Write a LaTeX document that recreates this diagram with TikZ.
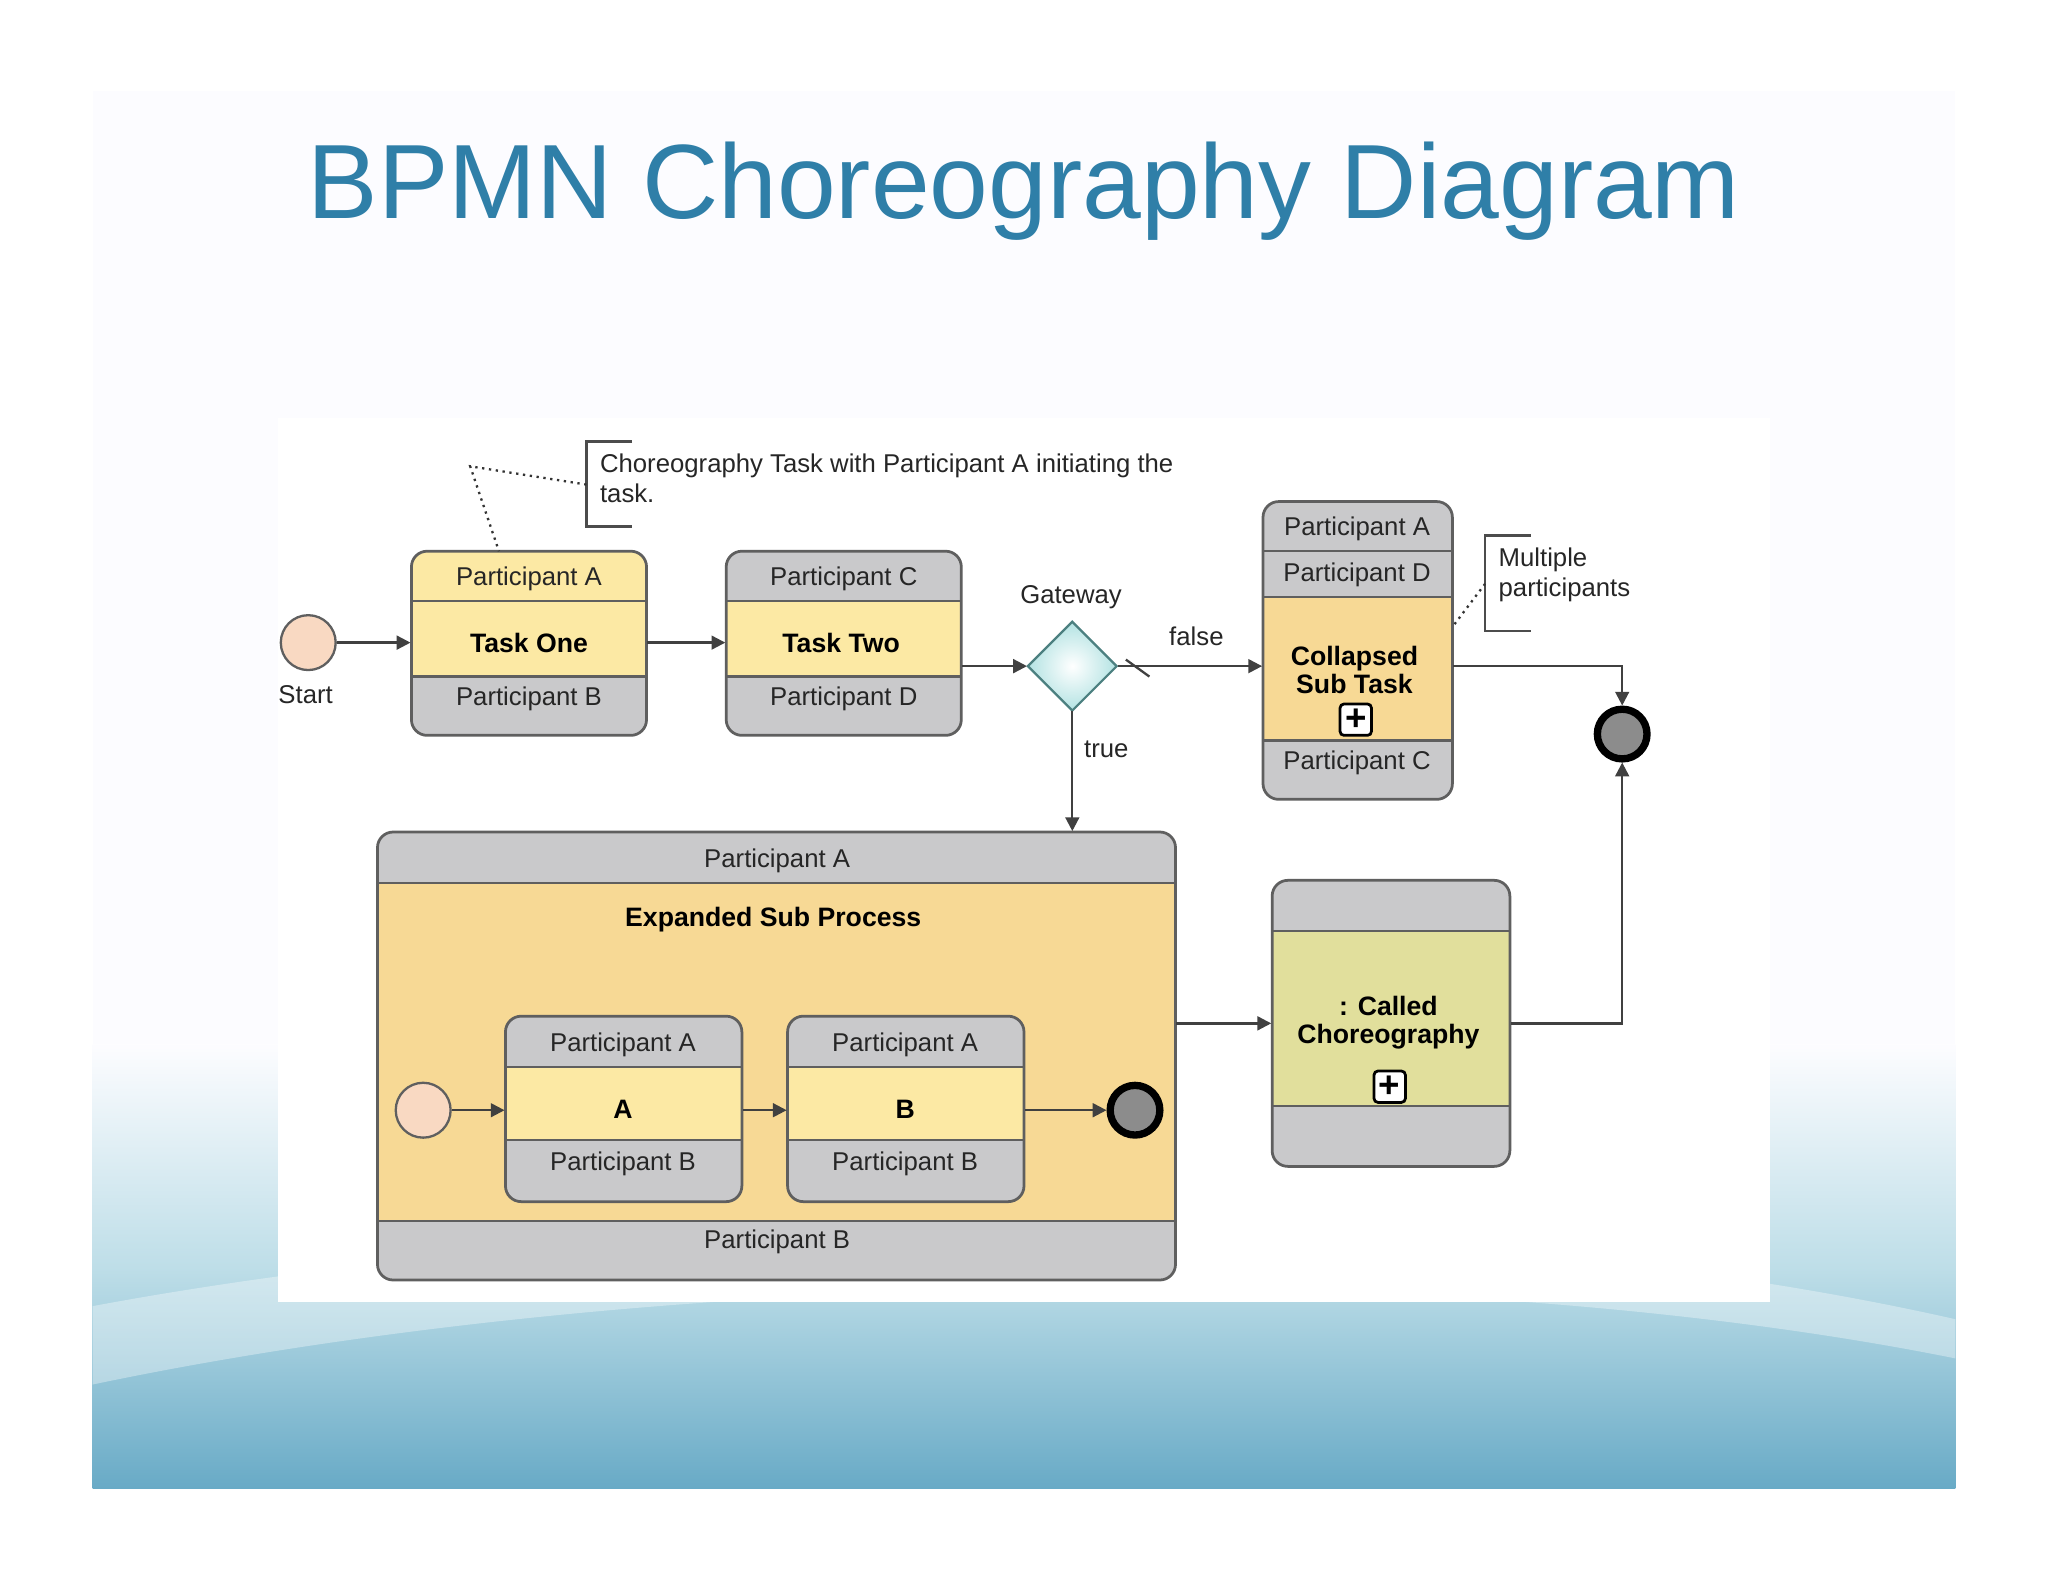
\documentclass[tikz,border=0pt]{standalone}
\usepackage{fontspec}
\setmainfont{Liberation Sans}
\usetikzlibrary{fit,arrows.meta}
\definecolor{gry}{HTML}{C9C9CB}
\definecolor{ylw}{HTML}{FCE9A4}
\definecolor{org}{HTML}{F7D995}
\definecolor{grn}{HTML}{E1DF9C}
\definecolor{peach}{HTML}{F9D9C2}
\definecolor{ttl}{HTML}{2F7FA8}
\definecolor{edge}{HTML}{5F5F5F}
% fill one band of a rounded box (clipped)
\newcommand{\bandfill}[5]{\fill[#5] (#1,#3) rectangle (#2,#4);}
\tikzset{
  lbl/.style={font=\fontsize{5.6}{6.6}\selectfont, text=black!85},
  bld/.style={font=\fontsize{5.8}{7}\selectfont\bfseries, align=center},
  box/.style={draw=edge, line width=0.6pt, rounded corners=0.12cm},
  sep/.style={draw=edge, line width=0.5pt},
  flow/.style={draw=black!75, line width=0.5pt, -{Triangle[length=3pt,width=3pt]}},
  evs/.style={circle, draw=edge, line width=0.5pt, fill=peach, minimum size=0.42cm, inner sep=0pt},
  eve/.style={circle, draw=black, line width=1.6pt, fill=black!45, minimum size=0.38cm, inner sep=0pt},
  plus/.style={draw=black, line width=0.6pt, fill=white, rounded corners=0.03cm, minimum size=0.24cm, inner sep=0pt, font=\fontsize{8}{8}\selectfont\bfseries},
  dots/.style={densely dotted, black!80, line width=0.5pt}
}
\begin{document}
\begin{tikzpicture}[x=0.01cm, y=-0.01cm]
\useasboundingbox (0,0) rectangle (1568,1211);
\fill[white] (0,0) rectangle (1568,1211);
% slide background
\fill[black!1!blue!1!white] (71,70) rectangle (1497,800);
\shade[top color=black!1!blue!1!white, bottom color={rgb,255:red,104;green,170;blue,198}, middle color={rgb,255:red,190;green,222;blue,232}] (71,800) rectangle (1497,1140);
\fill[white, opacity=0.35] (71,1000) .. controls (500,920) and (1100,920) .. (1497,1010) -- (1497,1040) .. controls (1100,960) and (500,970) .. (71,1060) -- cycle;
\node[font=\fontsize{23}{26}\selectfont, text=ttl] (title) at (784,146) {BPMN Choreography Diagram};
\fill[white] (213,320) rectangle (1355,997);

% ---- Task One
\begin{scope}\clip[rounded corners=0.12cm] (315,422) rectangle (495,563);
\bandfill{315}{495}{422}{460}{ylw}\bandfill{315}{495}{460}{518}{ylw}\bandfill{315}{495}{518}{563}{gry}\end{scope}
\draw[box] (315,422) rectangle (495,563);
\draw[sep] (315,460) -- (495,460) (315,518) -- (495,518);
\node[inner sep=0pt, fit={(315,422)(495,563)}] (t1) {};
\node[lbl] at (405,443) {Participant A};
\node[bld] at (405,492) {Task One};
\node[lbl] at (405,535) {Participant B};

% ---- Task Two
\begin{scope}\clip[rounded corners=0.12cm] (556,422) rectangle (736,563);
\bandfill{556}{736}{422}{460}{gry}\bandfill{556}{736}{460}{518}{ylw}\bandfill{556}{736}{518}{563}{gry}\end{scope}
\draw[box] (556,422) rectangle (736,563);
\draw[sep] (556,460) -- (736,460) (556,518) -- (736,518);
\node[inner sep=0pt, fit={(556,422)(736,563)}] (t2) {};
\node[lbl] at (646,443) {Participant C};
\node[bld] at (644,492) {Task Two};
\node[lbl] at (646,535) {Participant D};

% ---- Start / Gateway
\node[evs] (st) at (236,492) {};
\node[lbl] at (234,532) {Start};
\shade[inner color=white, outer color=cyan!25!teal!30, draw=teal!40!gray, line width=0.5pt] (821,476) -- (855,510) -- (821,544) -- (787,510) -- cycle;
\node[inner sep=0pt, fit={(787,476)(855,544)}] (gw) {};
\node[lbl] at (820,457) {Gateway};
\node[lbl] at (916,487) {false};
\node[lbl] at (847,574) {true};

% ---- Collapsed Sub Task
\begin{scope}\clip[rounded corners=0.12cm] (967,384) rectangle (1112,612);
\bandfill{967}{1112}{384}{457}{gry}\bandfill{967}{1112}{457}{567}{org}\bandfill{967}{1112}{567}{612}{gry}\end{scope}
\draw[box] (967,384) rectangle (1112,612);
\draw[sep] (967,422) -- (1112,422) (967,457) -- (1112,457) (967,567) -- (1112,567);
\node[inner sep=0pt, fit={(967,384)(1112,612)}] (cs) {};
\node[lbl] at (1039,405) {Participant A};
\node[lbl] at (1039,440) {Participant D};
\node[bld] at (1037,513) {Collapsed\\[-1pt]Sub Task};
\node[plus] (p1) at (1038,551) {+};
\node[lbl] at (1039,584) {Participant C};

% ---- End
\node[eve] (en) at (1242,562) {};

% ---- Expanded Sub Process
\begin{scope}\clip[rounded corners=0.12cm] (289,637) rectangle (900,980);
\bandfill{289}{900}{637}{676}{gry}\bandfill{289}{900}{676}{935}{org}\bandfill{289}{900}{935}{980}{gry}\end{scope}
\draw[box] (289,637) rectangle (900,980);
\draw[sep] (289,676) -- (900,676) (289,935) -- (900,935);
\node[inner sep=0pt, fit={(289,637)(900,980)}] (ex) {};
\node[lbl] at (595,659) {Participant A};
\node[bld] at (592,704) {Expanded Sub Process};
\node[lbl] at (595,951) {Participant B};

% inner tasks
\begin{scope}\clip[rounded corners=0.12cm] (387,778) rectangle (568,920);
\bandfill{387}{568}{778}{817}{gry}\bandfill{387}{568}{817}{873}{ylw}\bandfill{387}{568}{873}{920}{gry}\end{scope}
\draw[box] (387,778) rectangle (568,920);
\draw[sep] (387,817) -- (568,817) (387,873) -- (568,873);
\node[inner sep=0pt, fit={(387,778)(568,920)}] (ta) {};
\node[lbl] at (477,800) {Participant A};
\node[bld] at (477,849) {A};
\node[lbl] at (477,891) {Participant B};

\begin{scope}\clip[rounded corners=0.12cm] (603,778) rectangle (784,920);
\bandfill{603}{784}{778}{817}{gry}\bandfill{603}{784}{817}{873}{ylw}\bandfill{603}{784}{873}{920}{gry}\end{scope}
\draw[box] (603,778) rectangle (784,920);
\draw[sep] (603,817) -- (784,817) (603,873) -- (784,873);
\node[inner sep=0pt, fit={(603,778)(784,920)}] (tb) {};
\node[lbl] at (693,800) {Participant A};
\node[bld] at (693,849) {B};
\node[lbl] at (693,891) {Participant B};

\node[evs] (ist) at (324,850) {};
\node[eve] (ien) at (869,850) {};

% ---- Called Choreography
\begin{scope}\clip[rounded corners=0.12cm] (974,674) rectangle (1156,893);
\bandfill{974}{1156}{674}{713}{gry}\bandfill{974}{1156}{713}{847}{grn}\bandfill{974}{1156}{847}{893}{gry}\end{scope}
\draw[box] (974,674) rectangle (1156,893);
\draw[sep] (974,713) -- (1156,713) (974,847) -- (1156,847);
\node[inner sep=0pt, fit={(974,674)(1156,893)}] (cc) {};
\node[bld] at (1063,783) {: Called\\[-1pt]Choreography};
\node[plus] (p2) at (1064,832) {+};

% ---- Annotations
\draw[black!70, line width=0.5pt] (484,338) -- (449,338) -- (449,403) -- (484,403);
\node[lbl, anchor=north west, align=left] (n1) at (447,335) {Choreography Task with Participant A initiating the\\task.};
\draw[dots] (449,371) -- (360,357) -- (382,422);
\draw[black!70, line width=0.5pt] (1172,410) -- (1137,410) -- (1137,483) -- (1172,483);
\node[lbl, anchor=north west, align=left] (n2) at (1135,407) {Multiple\\participants};
\draw[dots] (1137,447) -- (1112,480);

% ---- Flows
\draw[flow] (st) -- (t1.west|-st);
\draw[flow] (t1.east|-st) -- (t2.west|-st);
\draw[flow] (t2.east|-gw) -- (gw.west);
\draw[flow] (gw.east) -- (cs.west|-gw);
\draw[black!75, line width=0.5pt] (862,505) -- (880,518);
\draw[flow] (gw.south) -- (gw.south|-ex.north);
\draw[flow] (cs.east|-gw) -| (en.north);
\draw[flow] (ex.east|-cc) -- (cc.west);
\draw[flow] (cc.east) -| (en.south);
\draw[flow] (ist) -- (ta.west|-ist);
\draw[flow] (ta.east|-ist) -- (tb.west|-ist);
\draw[flow] (tb.east|-ist) -- (ien);
\end{tikzpicture}
\end{document}
